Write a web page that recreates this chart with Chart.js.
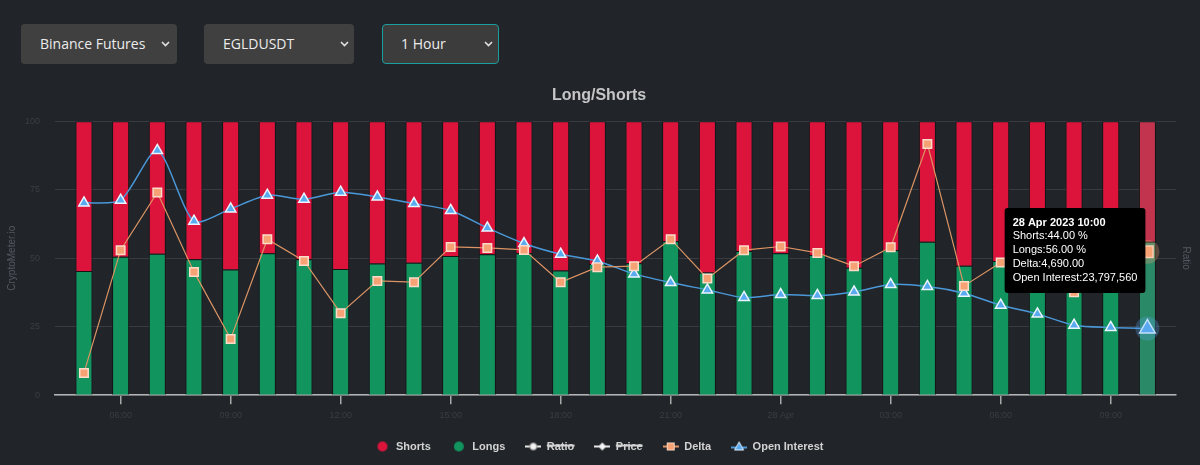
<!DOCTYPE html>
<html>
<head>
<meta charset="utf-8">
<script src="https://cdn.jsdelivr.net/npm/chart.js@4"></script>
<style>
html,body{margin:0;padding:0;background:#212429;width:1200px;height:465px;overflow:hidden;}
.sel{position:absolute;top:24px;height:40px;background:#404040;border-radius:4px;box-sizing:border-box;color:#ececec;font:14px "Open Sans",sans-serif;line-height:40px;padding-left:19px;}
.sel svg{position:absolute;top:17px;}
#s1{left:21px;width:156px;}
#s2{left:204px;width:150px;}
#s3{left:382px;width:117px;border:1px solid #1b9e9e;background:#3c3c3c;line-height:38px;padding-left:18px;}
#wrap{position:absolute;left:0;top:76px;width:1200px;height:389px;}
</style>
</head>
<body>
<div class="sel" id="s1">Binance Futures<svg style="left:140px" width="9" height="6"><polyline points="1,1 4.5,4.5 8,1" fill="none" stroke="#e0e0e0" stroke-width="1.6"/></svg></div>
<div class="sel" id="s2">EGLDUSDT<svg style="left:136px" width="9" height="6"><polyline points="1,1 4.5,4.5 8,1" fill="none" stroke="#e0e0e0" stroke-width="1.6"/></svg></div>
<div class="sel" id="s3">1 Hour<svg style="left:101px;top:16px" width="9" height="6"><polyline points="1,1 4.5,4.5 8,1" fill="none" stroke="#e0e0e0" stroke-width="1.6"/></svg></div>
<div id="wrap"><canvas id="c" width="1200" height="389"></canvas></div>
<script>
// ---- data ----
const times = [
  "27 Apr 2023 05:00","27 Apr 2023 06:00","27 Apr 2023 07:00","27 Apr 2023 08:00","27 Apr 2023 09:00",
  "27 Apr 2023 10:00","27 Apr 2023 11:00","27 Apr 2023 12:00","27 Apr 2023 13:00","27 Apr 2023 14:00",
  "27 Apr 2023 15:00","27 Apr 2023 16:00","27 Apr 2023 17:00","27 Apr 2023 18:00","27 Apr 2023 19:00",
  "27 Apr 2023 20:00","27 Apr 2023 21:00","27 Apr 2023 22:00","27 Apr 2023 23:00","28 Apr 2023 00:00",
  "28 Apr 2023 01:00","28 Apr 2023 02:00","28 Apr 2023 03:00","28 Apr 2023 04:00","28 Apr 2023 05:00",
  "28 Apr 2023 06:00","28 Apr 2023 07:00","28 Apr 2023 08:00","28 Apr 2023 09:00","28 Apr 2023 10:00"
];
const shortsValues = [54.7,49.5,48.4,50.4,54.1,48.2,50.4,53.9,51.9,51.7,49.2,48.6,48.2,54.5,52.1,51.8,43.8,55.2,47.4,48.2,48.8,53.5,47.1,44.0,52.8,51.0,50.5,49.0,50.0,44.0];
const longsValues  = [45.3,50.5,51.6,49.6,45.9,51.8,49.6,46.1,48.1,48.3,50.8,51.4,51.8,45.5,47.9,48.2,56.2,44.8,52.6,51.8,51.2,46.5,52.9,56.0,47.2,49.0,49.5,51.0,50.0,56.0];
const ratioValues  = [];
const priceValues  = [];
const deltaValues  = [-2650,4785,8281,3470,-589,5451,4136,968,2925,2846,4985,4924,4803,2846,3755,3816,5451,3070,4785,5009,4621,3816,4966,11225,2622,4040,4482,2240,3270,4690];
const oiValues     = [30948000,31102000,33932000,29906000,30606000,31387000,31159000,31558000,31290000,30914000,30516000,29525000,28636000,28027000,27646000,26906000,26416000,25995000,25563000,25733000,25677000,25881000,26302000,26189000,25808000,25125000,24629000,23986000,23855000,23797560];
const xTickIndex   = [1,4,7,10,13,16,19,22,25,28];
const xTickLabels  = ["06:00","09:00","12:00","15:00","18:00","21:00","28 Apr","03:00","06:00","09:00"];
const yTicks       = [0,25,50,75,100];

// ---- style ----
const RED='#dc143c', GREEN='#12945f', ORANGE='#f7a274', ORANGE_LINE='#dc9464', BLUE='#5aaaf0', BLUE_LINE='#4a98d8';
const pts = arr => arr.map((v,i)=>({x:i,y:v}));

function icon(draw){ const c=document.createElement('canvas'); c.width=16; c.height=12; const g=c.getContext('2d'); draw(g); return c; }
const icons = [
  icon(g=>{g.fillStyle=RED;g.beginPath();g.arc(8,6,5,0,Math.PI*2);g.fill();}),
  icon(g=>{g.fillStyle=GREEN;g.beginPath();g.arc(8,6,5,0,Math.PI*2);g.fill();}),
  icon(g=>{g.strokeStyle='#e6e6e6';g.lineWidth=2;g.beginPath();g.moveTo(0,6);g.lineTo(16,6);g.stroke();g.fillStyle='#f4f4f4';g.strokeStyle='#9a9a9a';g.lineWidth=1;g.beginPath();g.arc(8,6,3.5,0,Math.PI*2);g.fill();g.stroke();}),
  icon(g=>{g.strokeStyle='#e6e6e6';g.lineWidth=2;g.beginPath();g.moveTo(0,6);g.lineTo(16,6);g.stroke();g.fillStyle='#f4f4f4';g.beginPath();g.moveTo(8,2);g.lineTo(12,6);g.lineTo(8,10);g.lineTo(4,6);g.closePath();g.fill();}),
  icon(g=>{g.strokeStyle=ORANGE_LINE;g.lineWidth=2;g.beginPath();g.moveTo(0,6);g.lineTo(16,6);g.stroke();g.fillStyle=ORANGE;g.strokeStyle='#fbd6c2';g.lineWidth=1;g.fillRect(4,2,8,8);g.strokeRect(4.5,2.5,7,7);}),
  icon(g=>{g.strokeStyle=BLUE_LINE;g.lineWidth=2;g.beginPath();g.moveTo(0,7);g.lineTo(16,7);g.stroke();g.fillStyle=BLUE;g.strokeStyle='#e6f3ff';g.lineWidth=1;g.beginPath();g.moveTo(8,1.5);g.lineTo(12.5,9.5);g.lineTo(3.5,9.5);g.closePath();g.fill();g.stroke();})
];

const TT = Chart.Tooltip || Chart.registry.getPlugin('tooltip');
TT.positioners.ls = function(items){
  const dsets = this.chart.data.datasets;
  const sel = items.filter(it => dsets[it.datasetIndex].yAxisID !== 'yOI');
  if(!sel.length) return false;
  let x=0,y=0;
  sel.forEach(it=>{
    const el = it.element;
    if(dsets[it.datasetIndex].type==='bar'){ x+=el.x; y+=(el.y+el.base)/2; }
    else { x+=el.x; y+=el.y; }
  });
  return {x:x/sel.length, y:y/sel.length};
};

const haloPlugin = {
  id:'halo',
  afterDatasetsDraw(chart){
    const ctx=chart.ctx;
    chart.getActiveElements().forEach(a=>{
      const ds=chart.data.datasets[a.datasetIndex];
      if(ds.type!=='line') return;
      const el=chart.getDatasetMeta(a.datasetIndex).data[a.index];
      ctx.save(); ctx.beginPath(); ctx.arc(el.x, el.y, 12, 0, Math.PI*2);
      ctx.fillStyle=ds.haloColor; ctx.fill(); ctx.restore();
    });
  }
};

Chart.defaults.font.family = 'Arial, "Liberation Sans", sans-serif';

const chart = new Chart(document.getElementById('c'), {
  data: {
    datasets: [
      {type:'bar', label:'Shorts', data:pts(shortsValues), yAxisID:'y', order:2,
       backgroundColor:RED, hoverBackgroundColor:'#c2334e', borderColor:'#121416', hoverBorderColor:'#121416', borderWidth:1,
       barPercentage:0.465, categoryPercentage:1},
      {type:'bar', label:'Longs', data:pts(longsValues), yAxisID:'y', order:1,
       backgroundColor:GREEN, hoverBackgroundColor:'#2a8a67', borderColor:'#121416', hoverBorderColor:'#121416', borderWidth:1,
       barPercentage:0.465, categoryPercentage:1},
      {type:'line', label:'Ratio', data:pts(ratioValues), yAxisID:'yRatio', hidden:true, order:0, borderColor:'#e6e6e6', backgroundColor:'#f4f4f4'},
      {type:'line', label:'Price', data:pts(priceValues), yAxisID:'yPrice', hidden:true, order:0, borderColor:'#e6e6e6', backgroundColor:'#f4f4f4', pointStyle:'rectRot'},
      {type:'line', label:'Delta', data:pts(deltaValues), yAxisID:'yDelta', order:0,
       borderColor:ORANGE_LINE, borderWidth:1.2, tension:0,
       pointStyle:'rect', pointRadius:6, pointHoverRadius:8, pointBackgroundColor:ORANGE, pointBorderColor:'#fbdccb', pointBorderWidth:1.5,
       pointHoverBackgroundColor:ORANGE, pointHoverBorderColor:'#fbdccb', pointHoverBorderWidth:1.5, haloColor:'rgba(247,162,116,0.28)'},
      {type:'line', label:'Open Interest', data:pts(oiValues), yAxisID:'yOI', order:0,
       borderColor:BLUE_LINE, borderWidth:1.5, tension:0.25,
       pointStyle:'triangle', pointRadius:6, pointHoverRadius:9, pointBackgroundColor:BLUE, pointBorderColor:'#eaf5ff', pointBorderWidth:1.5,
       pointHoverBackgroundColor:BLUE, pointHoverBorderColor:'#eaf5ff', pointHoverBorderWidth:1.5, haloColor:'rgba(90,170,240,0.28)'}
    ]
  },
  options: {
    responsive:false, animation:false, events:[],
    layout:{padding:{left:2,right:4,top:0,bottom:3}},
    scales:{
      x:{type:'linear', min:-0.79, max:29.78, offset:false, stacked:true,
         grid:{display:true, drawOnChartArea:false, drawTicks:true, tickLength:9, color:'#a9a9a9', lineWidth:1.5, offset:false},
         border:{display:true, color:'#b4b4b4', width:1.5},
         afterBuildTicks: s => { s.ticks = xTickIndex.map(v=>({value:v})); },
         afterFit: s => { s.height -= 6; },
         ticks:{color:'#3b3e44', font:{size:9}, padding:6, maxRotation:0, autoSkip:false,
                callback:(v)=>{const k=xTickIndex.indexOf(v); return k>=0?xTickLabels[k]:'';}}},
      y:{position:'left', min:0, max:100, stacked:true,
         afterBuildTicks: s => { s.ticks = yTicks.map(v=>({value:v})); },
         afterFit: s => { s.width = 53; },
         ticks:{color:'#3b3e44', font:{size:9}, padding:15},
         grid:{color:'#383b41', drawTicks:false}, border:{display:false},
         title:{display:true, text:'CryptoMeter.io', color:'#555960', font:{size:10}}},
      yRatio:{position:'right', display:true, ticks:{display:false}, grid:{display:false, drawTicks:false}, border:{display:false},
         title:{display:true, text:'Ratio', color:'#555960', font:{size:10}}},
      yPrice:{display:false},
      yDelta:{display:false, min:-4000, max:12600},
      yOI:{display:false, min:20000000, max:35600000}
    },
    plugins:{
      title:{display:true, text:'Long/Shorts', color:'#c6c6c6', font:{size:16, weight:'bold'}, padding:{top:10,bottom:16}},
      legend:{position:'bottom', labels:{color:'#d2d2d2', font:{size:11, weight:'bold'}, padding:20, usePointStyle:true, pointStyleWidth:16,
        generateLabels: ch => {
          const items = Chart.defaults.plugins.legend.labels.generateLabels(ch);
          items.sort((a,b)=>a.datasetIndex-b.datasetIndex);
          items.forEach(it=>{ it.pointStyle = icons[it.datasetIndex]; });
          return items;
        }}},
      tooltip:{enabled:true, mode:'index', intersect:false, position:'ls',
        backgroundColor:'#000', titleColor:'#fff', bodyColor:'#fff',
        titleFont:{size:11, weight:'bold'}, bodyFont:{size:11},
        padding:8, caretSize:0, caretPadding:2, cornerRadius:3, displayColors:false,
        titleMarginBottom:0, bodySpacing:1,
        itemSort:(a,b)=>a.datasetIndex-b.datasetIndex,
        callbacks:{
          title: items => times[items[0].dataIndex],
          label: it => {
            const v = it.raw.y, l = it.dataset.label;
            if(l==='Shorts'||l==='Longs') return l+':'+v.toFixed(2)+' %';
            if(l==='Delta') return l+':'+v.toLocaleString('en-US',{minimumFractionDigits:2,maximumFractionDigits:2});
            return l+':'+Math.round(v).toLocaleString('en-US');
          }
        }}
    }
  },
  plugins:[haloPlugin]
});

const last = times.length-1;
const active = [0,1,4,5].map(d=>({datasetIndex:d, index:last}));
chart.setActiveElements(active);
chart.tooltip.setActiveElements(active, {x:0, y:0});
chart.update();
</script>
</body>
</html>
